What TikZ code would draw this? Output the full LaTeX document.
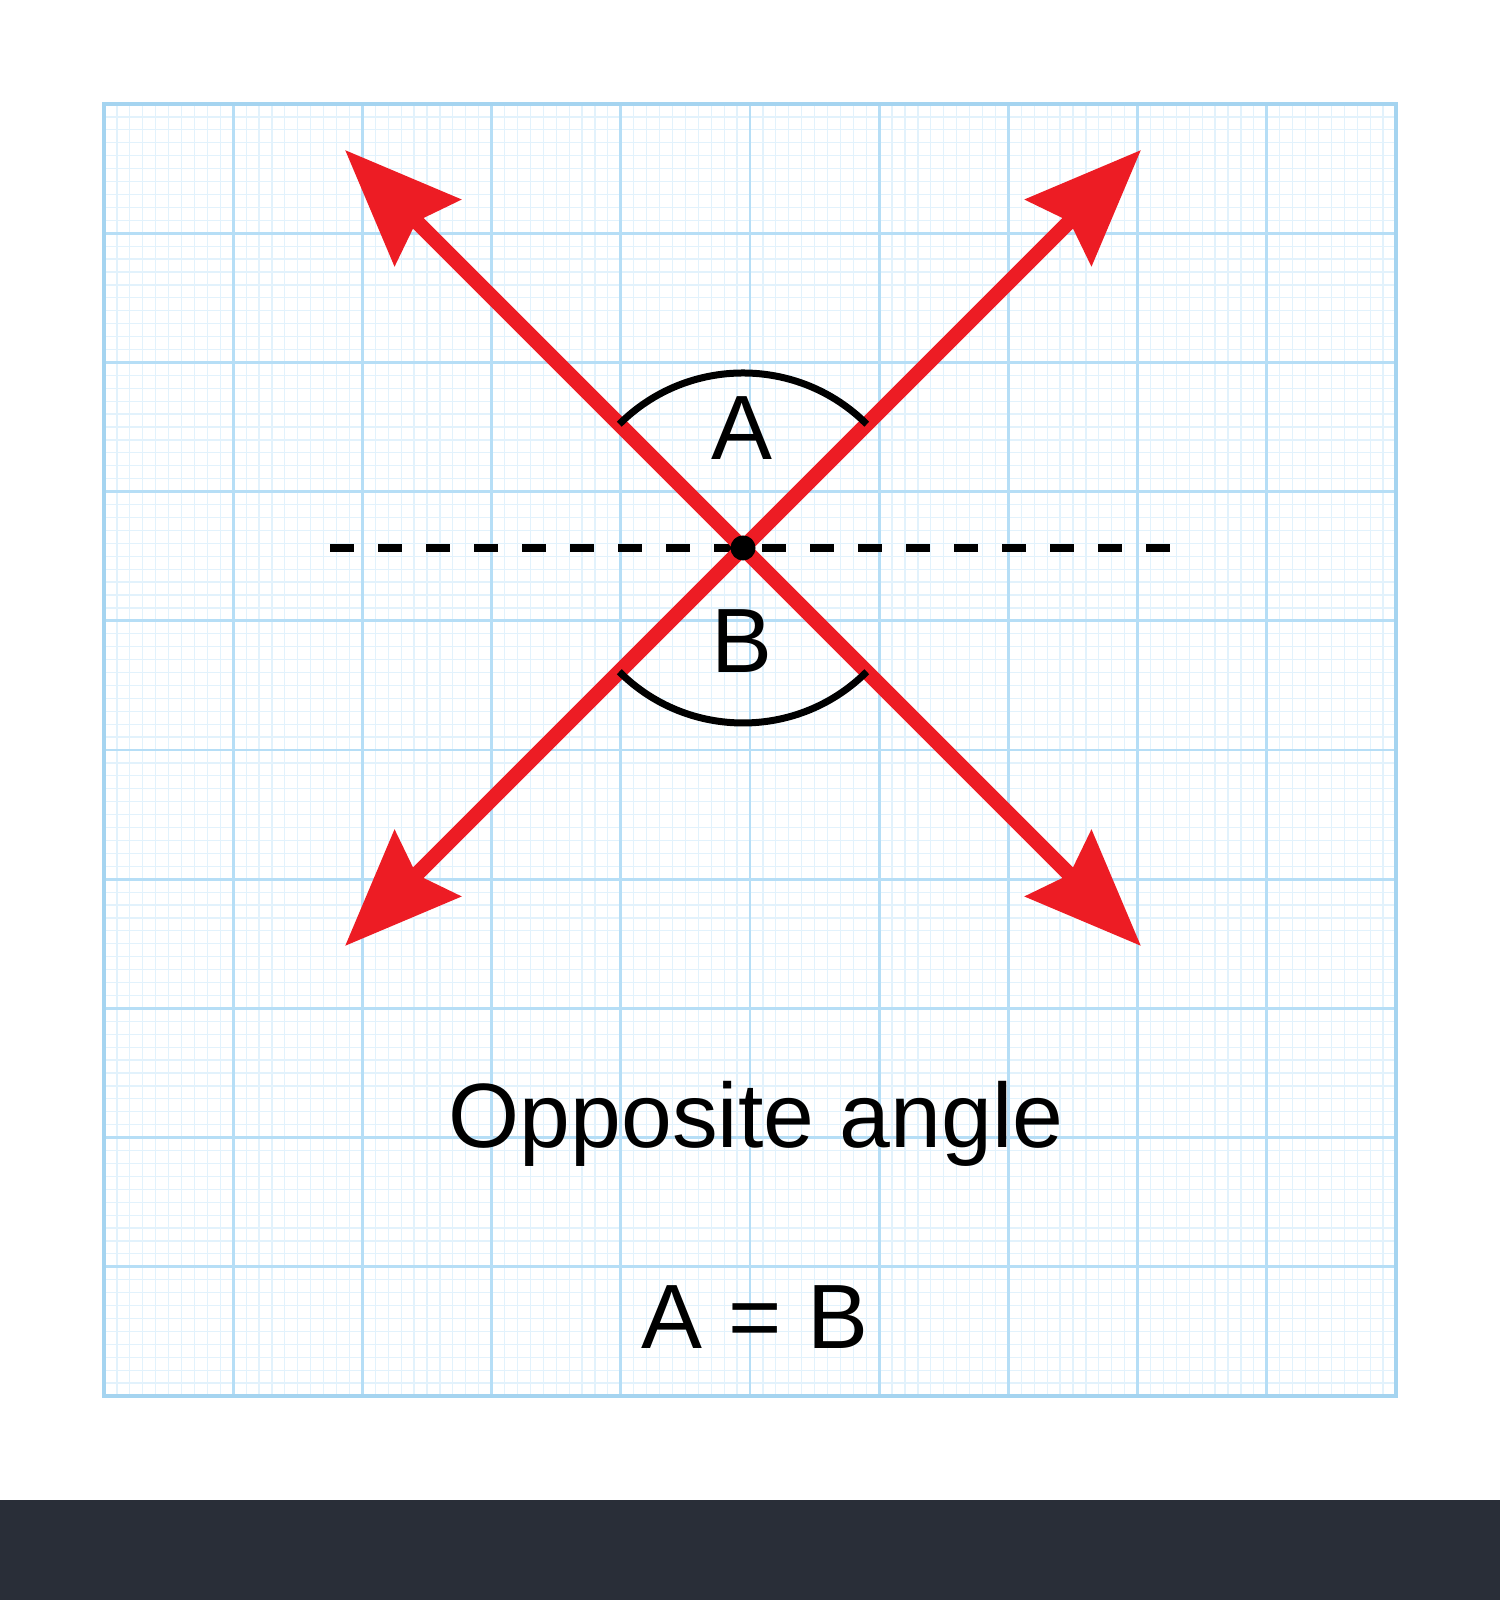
\documentclass[tikz,border=0pt]{standalone}
\usepackage{fontspec}
\setmainfont{Liberation Sans}
\usetikzlibrary{arrows.meta, calc}

\definecolor{gridminor}{RGB}{226,242,252}
\definecolor{gridmajor}{RGB}{182,222,246}
\definecolor{gridframe}{RGB}{165,212,240}
\definecolor{rayred}{RGB}{237,28,36}
\definecolor{barcolor}{RGB}{41,46,56}

\begin{document}
\begin{tikzpicture}[
					minor/.style={gridminor, line width=0.35pt},
					major/.style={gridmajor, line width=0.8pt},
					frame/.style={gridframe, line width=0.04cm},
					ray/.style={rayred, line width=0.15cm,
						{Stealth[length=1.16cm, width=0.92cm, inset=0.15cm]}-{Stealth[length=1.16cm, width=0.92cm, inset=0.15cm]}},
					anglearc/.style={black, line width=0.07cm},
					axis/.style={black, line width=0.085cm, dash pattern=on 0.24cm off 0.24cm},
					dot/.style={circle, fill=black, inner sep=0pt, minimum size=0.25cm},
					label/.style={font=\fontsize{26}{31}\selectfont, anchor=base, inner sep=0pt}
					]
					\useasboundingbox (0,0) rectangle (15,16);
					\fill[white] (0,0) rectangle (15,16);
					% grid paper
					\begin{scope}[shift={(1.04,2.04)}]
						\draw[minor] (0,0) grid[step=0.1292] (12.92,12.92);
						\draw[major] (0,0) grid[step=1.292] (12.92,12.92);
						\draw[frame] (0,0) rectangle (12.92,12.92);
					\end{scope}
					% intersection point and ray ends
					\coordinate (O) at (7.43,10.52);
					\coordinate (nw) at ($(O)+(-3.98,3.98)$);
					\coordinate (ne) at ($(O)+(3.98,3.98)$);
					\coordinate (sw) at ($(O)+(-3.98,-3.98)$);
					\coordinate (se) at ($(O)+(3.98,-3.98)$);
					\coordinate (axisL) at (3.30,10.52);
					\coordinate (axisR) at (11.71,10.52);
					\draw[axis] (axisL) -- (axisR);
					\draw[ray] (nw) -- (se);
					\draw[ray] (sw) -- (ne);
					\draw[anglearc] ($(O)+(45:1.75)$) arc[start angle=45, end angle=135, radius=1.75];
					\draw[anglearc] ($(O)+(225:1.75)$) arc[start angle=225, end angle=315, radius=1.75];
					\node[dot] (center) at (O) {};
					\node[label] (angA) at (7.42,11.40) {A};
					\node[label] (angB) at (7.42,9.27) {B};
					% caption
					\node[label] (title) at (7.56,4.52) {Opposite angle};
					\node[label] (equal) at (7.55,2.51) {A = B};
					% bottom bar
					\fill[barcolor] (0,0) rectangle (15,1.0);
				\end{tikzpicture}
\end{document}
